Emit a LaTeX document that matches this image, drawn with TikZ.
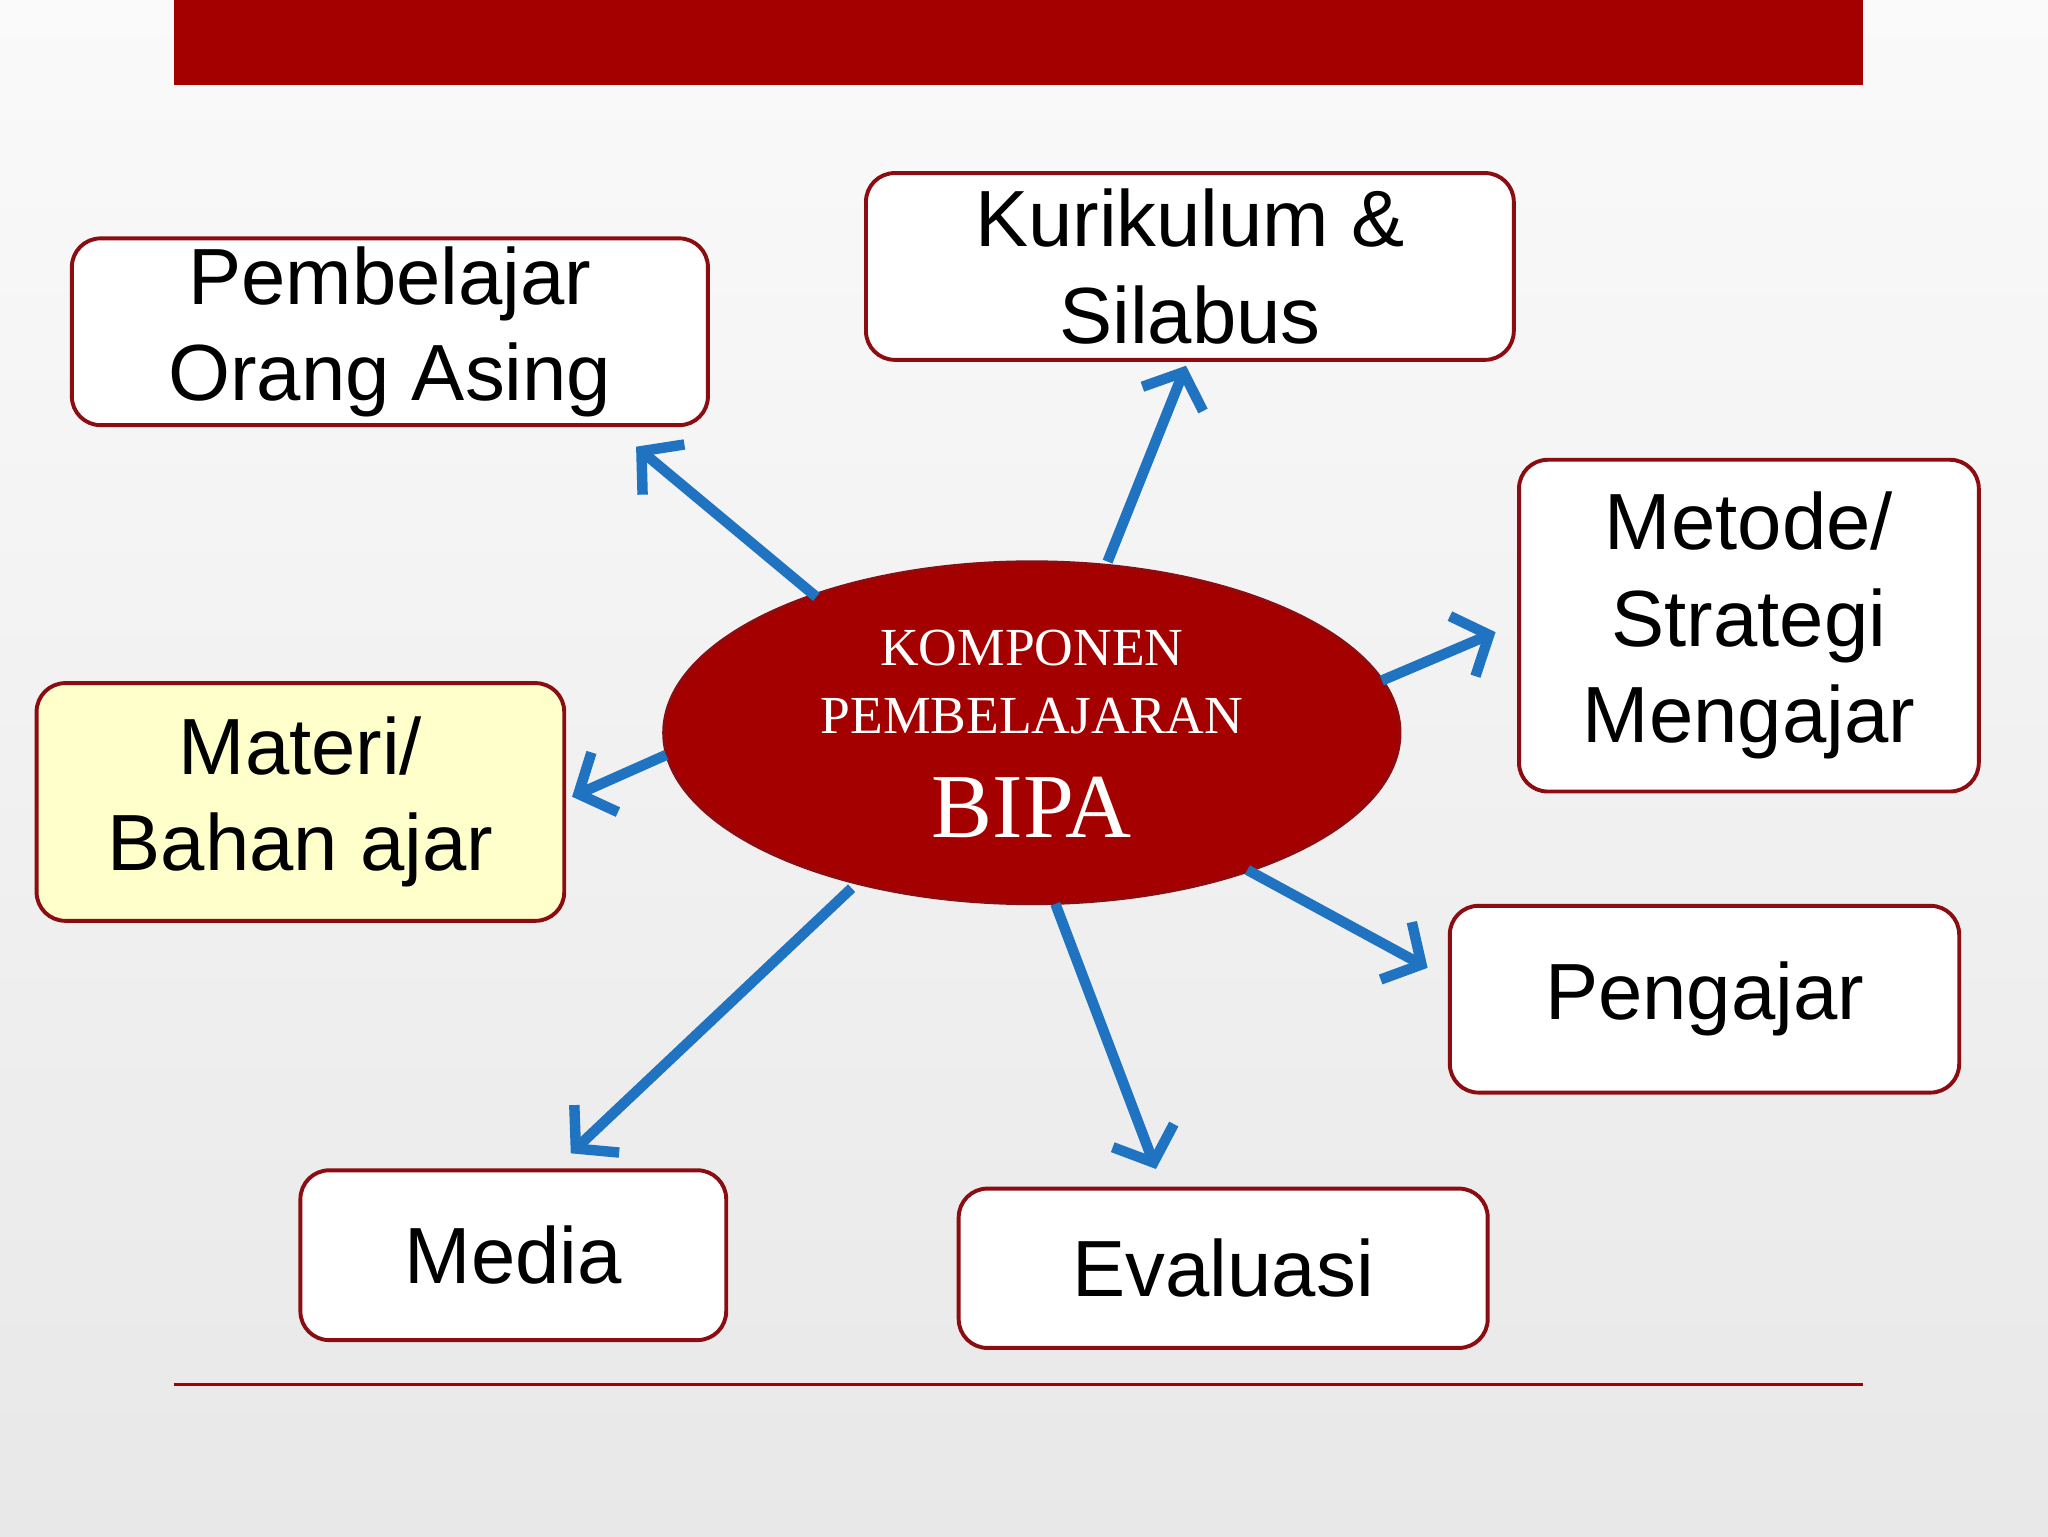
\documentclass[tikz,border=0pt]{standalone}
\usepackage{fontspec}
\setmainfont{Liberation Sans}
\newfontfamily\serifx{Liberation Serif}
\usetikzlibrary{arrows.meta,shapes.geometric}
\definecolor{darkred}{HTML}{A50000}
\definecolor{boxborder}{HTML}{8B0D12}
\definecolor{arrowblue}{HTML}{1F73C0}
\definecolor{paleyellow}{HTML}{FFFFCC}
\tikzset{
 box/.style={draw=boxborder,line width=3pt,rounded corners=22pt,fill=white,align=center,font=\fontsize{61}{74}\selectfont,inner sep=0pt},
 arr/.style={draw=arrowblue,line width=8pt,-{Straight Barb[length=22pt,width=50pt,line width=8pt]}},
 ctext/.style={text=white,inner sep=0pt}
}
\begin{document}
\begin{tikzpicture}[x=1pt,y=-1pt]
\shade[top color=white!96!gray,bottom color=white!82!gray] (0,0) rectangle (1568,1176);
\useasboundingbox (0,0) rectangle (1568,1176);
\fill[darkred] (133,0) rectangle (1426,65);
\draw[darkred,line width=3pt] (133,1060) -- (1426,1060);
\node[box,minimum width=487pt,minimum height=143pt] (pb) at (298.5,254) {Pembelajar\\Orang Asing};
\node[box,minimum width=496pt,minimum height=143pt] (ks) at (911,204) {Kurikulum \&\\Silabus};
\node[box,minimum width=352pt,minimum height=254pt] (me) at (1339,479) {Metode/\\Strategi\\Mengajar};
\node[box,fill=paleyellow,minimum width=404pt,minimum height=182pt] (ma) at (230,614) {Materi/\\Bahan ajar};
\node[box,minimum width=390pt,minimum height=143pt] (pg) at (1305,765) {Pengajar};
\node[box,minimum width=326pt,minimum height=130pt] (md) at (393,961) {Media};
\node[box,minimum width=405pt,minimum height=122pt] (ev) at (936.5,971) {Evaluasi};
\node[ellipse,draw=boxborder,line width=2pt,fill=darkred,minimum width=564pt,minimum height=262pt] (c) at (790,561) {};
\node[ctext,font=\serifx\fontsize{41}{48}\selectfont] (t1) at (790,496) {KOMPONEN};
\node[ctext,font=\serifx\fontsize{41}{48}\selectfont] (t2) at (790,548) {PEMBELAJARAN};
\node[ctext,font=\serifx\fontsize{70}{80}\selectfont] (t3) at (790,618) {BIPA};
\coordinate (a1) at (625,457); \coordinate (b1) at (487,342);
\coordinate (a2) at (848,430); \coordinate (b2) at (908,280);
\coordinate (a3) at (1058,521); \coordinate (b3) at (1145,484);
\coordinate (a4) at (510,578); \coordinate (b4) at (438,610);
\coordinate (a5) at (955,666); \coordinate (b5) at (1093,741);
\coordinate (a6) at (652,680); \coordinate (b6) at (437,883);
\coordinate (a7) at (808,692); \coordinate (b7) at (885,895);
\foreach \i in {1,...,7} \draw[arr] (a\i) -- (b\i);
\end{tikzpicture}
\end{document}
